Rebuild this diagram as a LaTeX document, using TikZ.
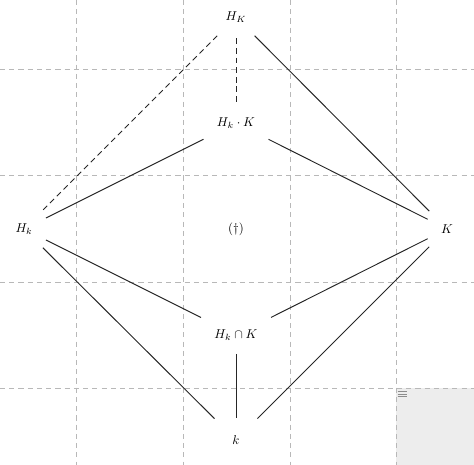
\documentclass[tikz,border=0pt]{standalone}
\begin{document}
\begin{tikzpicture}[x=0.78pt,y=-0.78pt,
  gridline/.style={draw=black!28,line width=0.65pt,dash pattern=on 4pt off 3.2pt},
  obj/.style={inner sep=0pt,outer sep=10.5pt,font=\normalsize},
  arr/.style={draw=black!85,line width=0.75pt},
  darr/.style={arr,dash pattern=on 4.5pt off 3pt}]
\useasboundingbox (0,0) rectangle (474,465);
% background panel
\fill[black!7] (396,388) rectangle (474,465);
\foreach \yy in {391.3,394,396.7}{\draw[black!45,line width=0.5pt] (397.5,\yy) -- (406.5,\yy);}
% grid
\foreach \gx in {76,183,290,396}{\draw[gridline] (\gx,0) -- (\gx,465);}
\foreach \gy in {69,175,282,388}{\draw[gridline] (0,\gy) -- (474,\gy);}
% nodes
\node[obj] (HK) at (236,17) {$H_K$};
\node[obj] (HkK) at (236,123) {$H_k\cdot K$};
\node[obj] (Hk) at (24,229) {$H_k$};
\node[obj] (dag) at (236,229) {$(\dagger)$};
\node[obj] (K) at (447,229) {$K$};
\node[obj] (cap) at (236,335) {$H_k\cap K$};
\node[obj,outer sep=14pt] (k) at (236,440) {$k$};
% connectors
\draw[darr] (HK) -- (Hk);
\draw[darr,shorten <=2pt,shorten >=2pt] (HK) -- (HkK);
\draw[arr] (HK) -- (K);
\draw[arr] (HkK) -- (Hk);
\draw[arr] (HkK) -- (K);
\draw[arr] (Hk) -- (cap);
\draw[arr] (Hk) -- (k);
\draw[arr] (K) -- (cap);
\draw[arr] (K) -- (k);
\draw[arr] (cap) -- (k);
\end{tikzpicture}
\end{document}
